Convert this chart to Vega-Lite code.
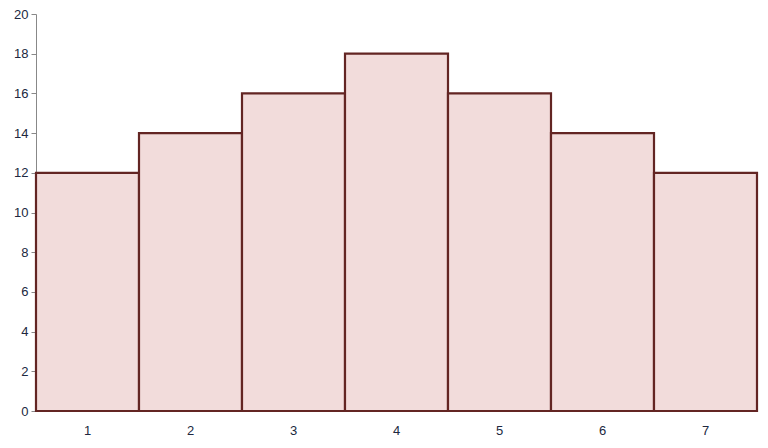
{
  "$schema": "https://vega.github.io/schema/vega-lite/v6.json",
  "width": 721,
  "height": 397,
  "autosize": {"type": "none"},
  "padding": {"left": 36, "top": 14, "right": 11, "bottom": 37},
  "background": "white",
  "config": {"view": {"stroke": null}, "font": "Liberation Sans"},
  "data": {"values": [
    {"x": "1", "y": 12},
    {"x": "2", "y": 14},
    {"x": "3", "y": 16},
    {"x": "4", "y": 18},
    {"x": "5", "y": 16},
    {"x": "6", "y": 14},
    {"x": "7", "y": 12}
  ]},
  "mark": {"type": "bar", "fill": "#f2dcdb", "stroke": "#632523", "strokeWidth": 2.2},
  "encoding": {
    "x": {"field": "x", "type": "ordinal", "scale": {"paddingInner": 0, "paddingOuter": 0},
      "axis": {"title": null, "labelAngle": 0, "ticks": false, "domainColor": "#888888", "labelColor": "#202840", "labelFontSize": 13, "labelPadding": 13}},
    "y": {"field": "y", "type": "quantitative", "scale": {"domain": [0, 20]},
      "axis": {"title": null, "values": [0,2,4,6,8,10,12,14,16,18,20], "grid": false, "tickSize": 5, "tickColor": "#888888", "domainColor": "#888888", "labelColor": "#202840", "labelFontSize": 13, "labelPadding": 3}}
  }
}
